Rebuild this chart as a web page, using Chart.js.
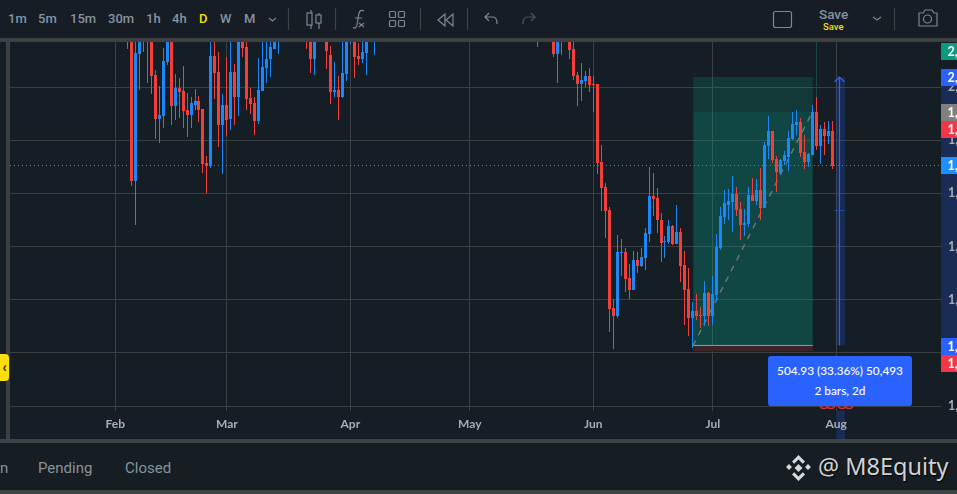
<!DOCTYPE html>
<html lang="en">
<head>
  <meta charset="UTF-8" />
  <title>M8Equity chart</title>
  <script src="https://cdn.jsdelivr.net/npm/chart.js"></script>
  <style>
    html, body { margin: 0; padding: 0; width: 957px; height: 494px; overflow: hidden; background: #151d25; }
    body { position: relative; font-family: Roboto, Arial, sans-serif; }
    canvas { position: absolute; left: 0; top: 0; }
    #top { position: absolute; left: 0; top: 0; width: 957px; height: 38px; background: #161d25; border-bottom: 4px solid #3d4043; }
    #top span { position: absolute; top: 11px; font-size: 13px; font-weight: 500; color: #8593a0; line-height: 16px; }
    #top span.on { color: #f5df0a; }
    #top span.save { top: 6px; font-size: 13.5px; }
    #top span.saveSub { top: 19px; font-size: 9.5px; color: #f5df0a; }
    #top svg, #foot svg { position: absolute; left: 0; top: 0; }
    #side { position: absolute; left: 6px; top: 42px; width: 4px; height: 397px; background: #3d4043; }
    #pill { position: absolute; left: 0; top: 354px; width: 9px; height: 27px; background: #fde00b; border-radius: 0 4px 4px 0; color: #222; font-size: 14px; font-weight: 700; line-height: 26px; text-align: center; }
    #foot { position: absolute; left: 0; top: 439px; width: 957px; height: 47px; background: #161e23; border-top: 4px solid #3d4245; border-bottom: 4px solid #3d4245; }
    #foot span { position: absolute; top: 16px; font-size: 15px; color: #87929c; line-height: 18px; }
    #foot span.brand { top: 8px; left: 818px; font-family: "Noto Sans", sans-serif; font-size: 23.5px; line-height: 30px; color: #cfd2d4; text-shadow: 1px 1px 1px #000; }
    #measure { position: absolute; left: 768px; top: 356px; width: 144px; height: 50px; background: #2962ff; border-radius: 3px; color: #fff; font-family: Lato, sans-serif; font-size: 11.8px; font-weight: 500; text-align: center; line-height: 20px; padding-top: 5px; box-sizing: border-box; }
  </style>
</head>
<body>
  <canvas id="chart" width="957" height="494"></canvas>

  <div id="top">
    <span style="left:8px">1m</span><span style="left:38px">5m</span><span style="left:70px">15m</span>
    <span style="left:108px">30m</span><span style="left:146px">1h</span><span style="left:172px">4h</span>
    <span class="on" style="left:199px">D</span><span style="left:220px">W</span><span style="left:244px">M</span>
    <span class="save" style="left:819px">Save</span><span class="saveSub" style="left:823px">Save</span>
    <svg width="957" height="38" fill="none" stroke="#7d8790" stroke-width="1.2">
      <path d="M269 18l3.5 3 3.5-3M873 17l4 3 4-3" />
      <path d="M288.5 8v22M335.5 8v22M420.5 8v22M467.5 8v22M894.5 8v22" stroke="#3d4347" />
      <path d="M311 10v19M319 13v16" /><rect x="307" y="13" width="5" height="12" fill="#161d25" /><rect x="316" y="15" width="5" height="8" fill="#161d25" />
      <path d="M364 11c-4-2-5 1-5.500 5l-1.500 9c-.5 3-2 3.500-4 2.500M355 18h7M359 23l5 4M364 23l-5 4" />
      <rect x="389.500" y="11.500" width="6" height="6" rx="1" /><rect x="398.500" y="11.500" width="6" height="6" rx="1" />
      <rect x="389.500" y="20.500" width="6" height="6" rx="1" /><rect x="398.500" y="20.500" width="6" height="6" rx="1" />
      <path d="M445 14l-7 6 7 6zM453 14l-7 6 7 6z" />
      <path d="M489 13l-4 4 4 4M485 17h8c3 0 4 3 4 7" />
      <path d="M531 13l4 4-4 4M535 17h-8c-3 0-4 3-4 7" stroke="#4d565e" />
      <rect x="773.500" y="11.500" width="18" height="16" rx="2" />
      <path d="M919 13h4l2-3h7l2 3h3v13h-18z" /><circle cx="927.500" cy="19" r="4" />
    </svg>
  </div>

  <div id="side"></div>
  <div id="pill">‹</div>

  <div id="foot">
    <span style="left:0">n</span><span style="left:38px">Pending</span><span style="left:125px">Closed</span>
    <span class="brand">@ M8Equity</span>
    <svg width="830" height="47" fill="#d6d8da" stroke="none">
      <path d="M798.500 21l4 4-4 4-4-4zM789 21l3 3-3 3-3-3zM808 21l3 3-3 3-3-3z" />
      <path d="M798.500 12l6.500 6.500-2.200 2.200-4.300-4.300-4.300 4.300-2.200-2.200zM798.500 38l6.500-6.500-2.200-2.200-4.300 4.300-4.300-4.300-2.200 2.200z" />
    </svg>
  </div>

  <div id="measure">504.93 (33.36%) 50,493<br>2 bars, 2d</div>

  <script>
    // x values are days counted from 1 Feb
    const monthDays = [0, 28, 59, 89, 120, 150, 181];
    const monthLabels = ['Feb', 'Mar', 'Apr', 'May', 'Jun', 'Jul', 'Aug'];
    const priceTicks = [1400, 1500, 1600, 1700, 1800, 1900, 2000];
    const priceTickLabels = ['1,', '1,', '1,', '1,', '1,', '1,', '2,'];

    const days = [3, 4, 5, 6, 7, 8, 9, 10, 11, 12, 13, 14, 15, 16, 17, 18, 19, 20, 21, 22, 23, 24, 25, 26, 27, 28, 29, 30, 31, 32, 33, 34, 35, 36, 37, 38, 39, 40, 41,
      48, 49, 50, 53, 54, 55, 56, 57, 58, 59, 60, 61, 62, 63, 65,
      106, 110, 111, 112, 114, 115, 116, 117, 118, 119, 120,
      121, 122, 123, 124, 125, 126, 127, 128, 129, 130, 131, 132, 133, 134, 135, 136, 137, 138, 139, 140, 141, 142, 143, 144, 145, 146, 147, 148, 149, 150,
      151, 152, 153, 154, 155, 156, 157, 158, 159, 160, 161, 162, 163, 164, 165, 166, 167, 168, 169, 170, 171, 172, 173, 174, 175, 176, 177, 178, 179, 180];
    const opens = [2120, 2100, 1824, 2062, 2092, 2095, 2095, 2023, 1940, 1946, 2047, 2095, 1964, 1998, 1992, 1957, 1947, 1966, 1974, 1959, 1857, 1852, 2058, 2028, 1929, 1966, 1940, 2028, 1981, 2095, 2075, 1979, 1970, 1936, 1992, 2036, 2053, 2071, 2095,
      2110, 2095, 2053, 2095, 2060, 1991, 1994, 1981, 2024, 2095, 2095, 2058, 2053, 2064, 2095,
      2110, 2095, 2062, 2110, 2095, 2071, 2023, 2006, 2011, 2021, 2006,
      2006, 1859, 1812, 1769, 1584, 1569, 1689, 1690, 1640, 1619, 1674, 1664, 1679, 1724, 1796, 1792, 1750, 1709, 1709, 1739, 1704, 1728, 1666, 1621, 1565, 1578, 1572, 1569, 1612, 1569,
      1608, 1698, 1756, 1779, 1784, 1799, 1771, 1741, 1743, 1797, 1786, 1807, 1773, 1889, 1917, 1865, 1839, 1861, 1869, 1902, 1929, 1934, 1878, 1859, 1872, 1953, 1889, 1921, 1908, 1917];
    const highs = [2130, 2130, 2110, 2120, 2120, 2120, 2110, 2032, 2002, 2073, 2110, 2110, 2024, 2017, 2039, 1989, 1981, 1996, 1983, 1959, 1871, 2110, 2110, 2066, 1987, 2056, 2110, 2043, 2110, 2110, 2110, 1998, 1981, 2054, 2110, 2110, 2110, 2110, 2120,
      2120, 2110, 2110, 2110, 2077, 2047, 2021, 2110, 2110, 2120, 2110, 2083, 2110, 2110, 2120,
      2120, 2110, 2110, 2120, 2110, 2090, 2028, 2045, 2030, 2036, 2021,
      2006, 1891, 1820, 1775, 1602, 1722, 1715, 1698, 1668, 1692, 1690, 1698, 1734, 1850, 1839, 1811, 1764, 1719, 1749, 1741, 1779, 1735, 1692, 1659, 1595, 1610, 1587, 1636, 1614, 1645,
      1724, 1775, 1807, 1809, 1833, 1812, 1784, 1771, 1812, 1829, 1827, 1848, 1897, 1946, 1917, 1871, 1865, 1880, 1917, 1953, 1957, 1942, 1910, 1876, 1966, 1981, 1929, 1934, 1936, 1936];
    const lows = [2071, 1814, 1741, 1994, 2066, 2007, 1987, 1902, 1895, 1923, 2041, 1929, 1938, 1942, 1923, 1906, 1923, 1957, 1934, 1839, 1801, 1848, 1977, 1887, 1837, 1908, 1919, 1929, 1946, 2056, 1957, 1949, 1910, 1931, 1992, 2008, 2019, 2071, 2062,
      2071, 2026, 2022, 2034, 1968, 1981, 1938, 1979, 2011, 2081, 2017, 2041, 2045, 2022, 2060,
      2075, 2056, 2008, 2060, 2053, 2013, 1964, 1974, 2000, 1991, 1953,
      1837, 1767, 1717, 1540, 1507, 1565, 1645, 1614, 1602, 1619, 1651, 1662, 1655, 1709, 1758, 1726, 1670, 1679, 1704, 1702, 1704, 1634, 1552, 1531, 1510, 1561, 1546, 1550, 1550, 1552,
      1597, 1694, 1743, 1749, 1728, 1758, 1713, 1720, 1737, 1786, 1779, 1749, 1773, 1865, 1857, 1803, 1837, 1854, 1842, 1901, 1910, 1869, 1846, 1850, 1872, 1882, 1856, 1872, 1893, 1846];
    const closes = [2100, 1824, 2064, 2095, 2110, 2110, 2021, 1940, 1947, 2049, 2095, 1964, 1998, 1991, 1955, 1947, 1970, 1974, 1957, 1856, 1852, 2058, 2026, 1929, 1966, 1938, 2028, 1981, 2095, 2073, 1977, 1968, 1936, 1994, 2038, 2053, 2075, 2095, 2110,
      2095, 2053, 2095, 2068, 1991, 1994, 1981, 2026, 2095, 2110, 2056, 2053, 2066, 2095, 2110,
      2095, 2062, 2095, 2095, 2069, 2021, 2006, 2013, 2021, 2004, 2004,
      1857, 1810, 1767, 1582, 1569, 1690, 1690, 1638, 1619, 1674, 1664, 1681, 1726, 1796, 1790, 1749, 1707, 1711, 1739, 1704, 1728, 1664, 1619, 1565, 1578, 1570, 1569, 1612, 1569, 1610,
      1700, 1758, 1781, 1786, 1799, 1769, 1741, 1745, 1797, 1786, 1807, 1773, 1891, 1917, 1863, 1841, 1863, 1872, 1904, 1931, 1934, 1876, 1859, 1874, 1953, 1889, 1921, 1908, 1917, 1852];

    // long position tool
    const positionDays = [145.1, 175.1];
    const positionEntry = 1513, positionInner = 1953, positionTarget = 2019, positionStop = 1503;
    const trendDays = [145, 175];
    const trendPrices = [1513, 1953];
    const targetLineDay = 176, targetLineLow = 1981;
    // measure tool
    const measureDays = [181, 183.2];
    const measureLineDay = 181.9;
    const measureLow = 1514, measureHigh = 2019, measureMid = 1767;
    const currentPrice = 1852;
    // price tags on the right scale
    const tagPrices = [2068, 2019, 1953, 1921, 1853, 1513, 1481];
    const tagColors = ['#0a9981', '#2962ff', '#808080', '#f23645', '#1e8fff', '#2962ff', '#f23645'];
    const tagLabels = ['2,', '2,', '1,', '1,', '1,', '1,', '1,'];

    const RED = '#f23f3a';
    const BLUE = '#1a88f8';
    const candleColors = days.map((_, i) => closes[i] >= opens[i] ? BLUE : RED);
    const barWidths = [3, 1]; // body, wick

    const toolsPlugin = {
      id: 'tools',
      beforeDraw(chart) {
        const { ctx, chartArea: a, scales: { x, y } } = chart;
        ctx.save();
        // highlighted range on both scales while measuring
        ctx.fillStyle = '#1a2b55';
        ctx.fillRect(a.right, y.getPixelForValue(measureHigh) + 8, 16, y.getPixelForValue(measureLow) - y.getPixelForValue(measureHigh) - 8);
        ctx.fillRect(x.getPixelForValue(measureDays[0]), a.bottom + 5, x.getPixelForValue(measureDays[1]) - x.getPixelForValue(measureDays[0]), 28);
        ctx.restore();
      },
      beforeDatasetsDraw(chart) {
        const { ctx, chartArea: a, scales: { x, y } } = chart;
        const left = x.getPixelForValue(positionDays[0]);
        const w = x.getPixelForValue(positionDays[1]) - left;
        const py = v => y.getPixelForValue(v);
        ctx.save();
        ctx.fillStyle = 'rgba(8,153,129,0.22)';
        ctx.fillRect(left, py(positionTarget), w, py(positionInner) - py(positionTarget));
        ctx.fillStyle = 'rgba(8,153,129,0.34)';
        ctx.fillRect(left, py(positionInner), w, py(positionEntry) - py(positionInner));
        ctx.fillStyle = '#3c2229';
        ctx.fillRect(left, py(positionEntry), w, py(positionStop) - py(positionEntry));
        ctx.fillStyle = '#9a9a9a';
        ctx.fillRect(left, py(positionEntry) - 1, w, 1);
        ctx.strokeStyle = '#17483f';
        const tx = Math.floor(x.getPixelForValue(targetLineDay)) + 0.5;
        ctx.beginPath(); ctx.moveTo(tx, a.top); ctx.lineTo(tx, py(targetLineLow)); ctx.stroke();

        // measure band, last close line
        const bx = x.getPixelForValue(measureDays[0]);
        const bw = x.getPixelForValue(measureDays[1]) - bx;
        ctx.fillStyle = 'rgba(41,98,255,0.2)';
        ctx.fillRect(bx, py(measureHigh), bw, py(measureLow) - py(measureHigh));
        ctx.strokeStyle = '#1e8fff';
        ctx.setLineDash([1, 3]);
        const cy = Math.floor(py(currentPrice)) + 0.5;
        ctx.beginPath(); ctx.moveTo(a.left, cy); ctx.lineTo(a.right, cy); ctx.stroke();
        ctx.restore();

        // keep candles on whole pixels
        chart.getSortedVisibleDatasetMetas().forEach(meta => {
          if (meta.type !== 'bar') return;
          meta.data.forEach(el => {
            el.x = Math.floor(el.x) + 0.5;
            el.width = barWidths[meta.index];
            el.y = Math.round(el.y);
            el.base = Math.round(el.base);
            if (el.y === el.base) el.base = el.y + 1;
          });
        });
      },
      afterDatasetsDraw(chart) {
        const { ctx, chartArea: a, scales: { x, y } } = chart;
        const lx = Math.floor(x.getPixelForValue(measureLineDay)) + 0.5;
        const top = y.getPixelForValue(measureHigh);
        const bottom = y.getPixelForValue(measureLow);
        const mid = Math.floor(y.getPixelForValue(measureMid)) + 0.5;
        ctx.save();
        ctx.strokeStyle = '#2962ff';
        ctx.lineWidth = 1.2;
        ctx.beginPath(); ctx.moveTo(lx, top); ctx.lineTo(lx, bottom); ctx.stroke();
        ctx.beginPath(); ctx.moveTo(lx - 5, top + 5); ctx.lineTo(lx, top); ctx.lineTo(lx + 5, top + 5); ctx.stroke();
        ctx.strokeStyle = '#2a4aa0';
        ctx.lineWidth = 1;
        ctx.beginPath(); ctx.moveTo(lx - 5, mid); ctx.lineTo(lx + 5, mid); ctx.stroke();

        // red marks peeking out from under the measure label
        ctx.strokeStyle = '#d12f3a';
        ctx.lineWidth = 1.5;
        [824, 831, 842, 849].forEach(px => {
          ctx.beginPath(); ctx.ellipse(px, a.bottom, 3.5, 2.5, 0, 0, Math.PI * 2); ctx.stroke();
        });

        ctx.font = 'bold 12.5px Lato, sans-serif';
        ctx.textBaseline = 'middle';
        ctx.textAlign = 'left';
        tagPrices.forEach((p, i) => {
          const py = Math.round(y.getPixelForValue(p));
          ctx.fillStyle = tagColors[i];
          ctx.fillRect(a.right, py - 8, 16, 17);
          ctx.fillStyle = '#fff';
          ctx.fillText(tagLabels[i], a.right + 6.5, py + 1);
        });
        ctx.restore();
      }
    };

    new Chart(document.getElementById('chart'), {
      data: {
        datasets: [
          {
            type: 'bar', order: 1, barThickness: 3, grouped: false, inflateAmount: 0,
            backgroundColor: candleColors,
            data: days.map((d, i) => ({ x: d, y: [opens[i], closes[i]] }))
          },
          {
            type: 'bar', order: 2, barThickness: 1, grouped: false, inflateAmount: 0,
            backgroundColor: candleColors,
            data: days.map((d, i) => ({ x: d, y: [lows[i], highs[i]] }))
          },
          {
            type: 'line', order: 3, borderColor: '#6d7a78', borderWidth: 1.4, borderDash: [6, 6], pointRadius: 0,
            data: trendDays.map((d, i) => ({ x: d, y: trendPrices[i] }))
          }
        ]
      },
      plugins: [toolsPlugin],
      options: {
        responsive: false,
        animation: false,
        events: [],
        layout: { padding: { left: 10, top: 42, right: 0, bottom: 56 } },
        plugins: { legend: { display: false }, tooltip: { enabled: false } },
        scales: {
          x: {
            type: 'linear', min: -26.45, max: 207.3, offset: false, bounds: 'data',
            afterBuildTicks: s => { s.ticks = monthDays.map(v => ({ value: v })); },
            afterFit: s => { s.height = 32; },
            grid: { color: '#3c4044', offset: false, tickLength: 5, tickColor: '#3c4044' },
            border: { display: false },
            ticks: {
              autoSkip: false, maxRotation: 0, padding: 6, color: '#a9adb3',
              font: { family: 'Lato, sans-serif', size: 12, weight: 'bold' },
              callback: v => monthLabels[monthDays.indexOf(v)]
            }
          },
          y: {
            position: 'right', min: 1400, max: 2084.8, bounds: 'data',
            afterBuildTicks: s => { s.ticks = priceTicks.map(v => ({ value: v })); },
            afterFit: s => { s.width = 16; },
            grid: { color: '#3c4044', drawTicks: false },
            border: { display: false },
            ticks: {
              padding: 7, color: '#a9adb3',
              font: { family: 'Lato, sans-serif', size: 12.5, weight: 'bold' },
              callback: v => priceTickLabels[priceTicks.indexOf(v)]
            }
          }
        }
      }
    });
  </script>
</body>
</html>
